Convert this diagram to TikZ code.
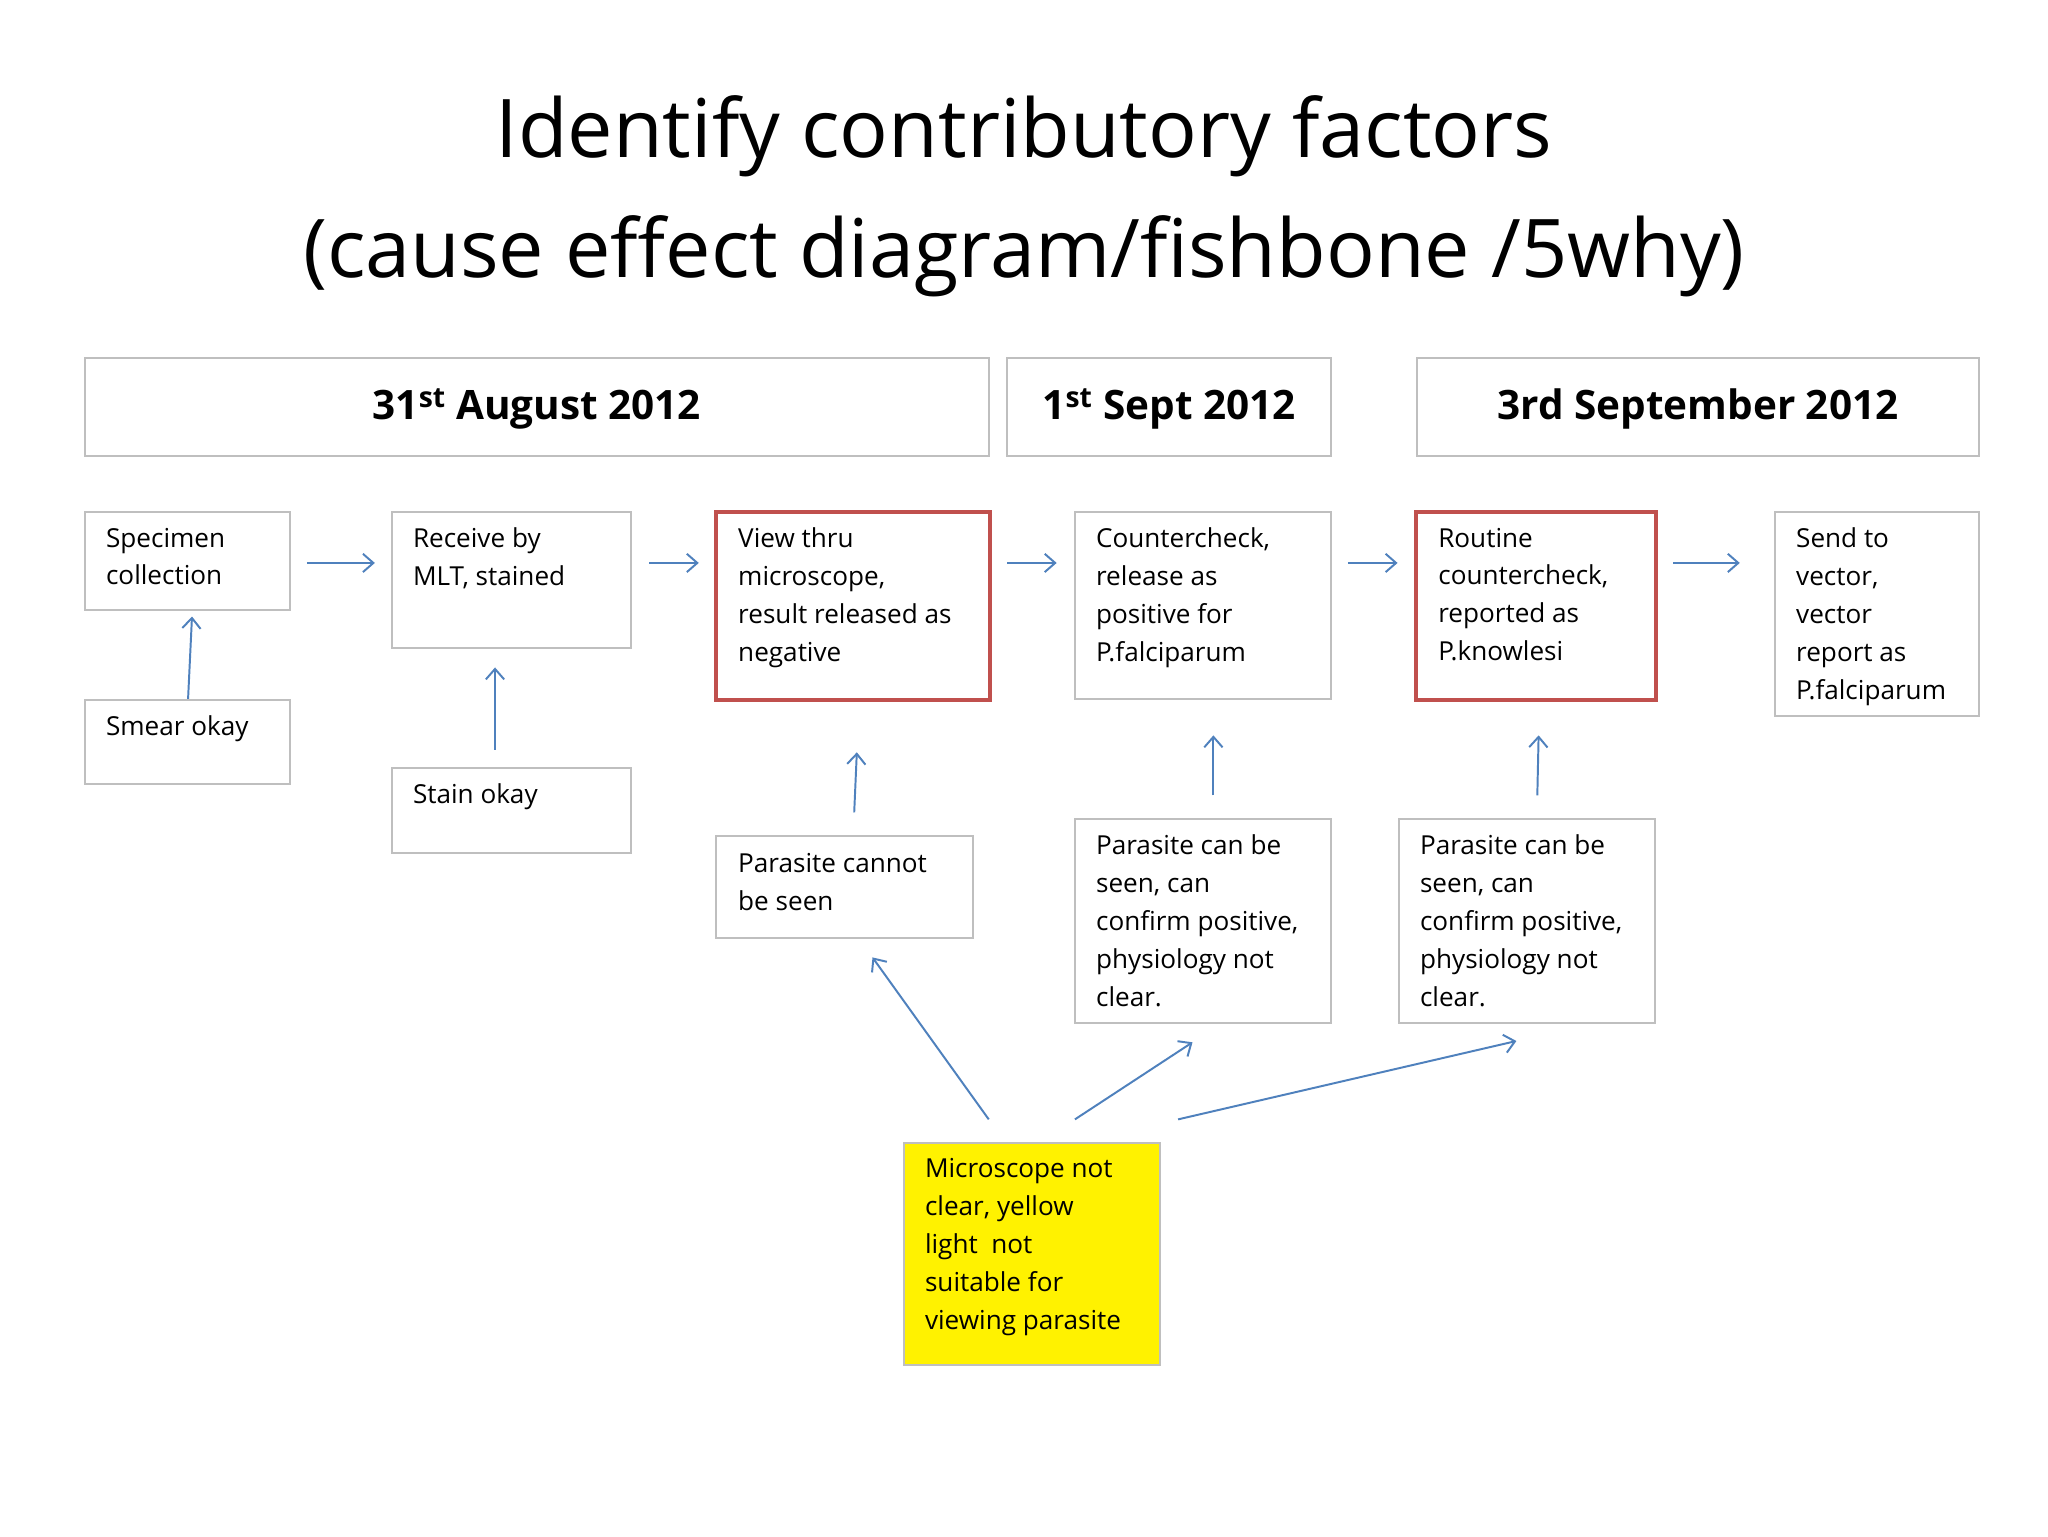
\documentclass[tikz,border=0pt]{standalone}
\usepackage{fontspec}
\setmainfont{Open Sans}
\usetikzlibrary{arrows.meta}
\definecolor{arr}{HTML}{4F81BD}
\definecolor{bx}{HTML}{BFBFBF}
\definecolor{rd}{HTML}{C0504D}
\tikzset{x=1pt,y=-1pt,
 box/.style={draw=bx,line width=1.5pt},
 redbox/.style={draw=rd,line width=3pt},
 txt/.style={anchor=north west,align=left,inner sep=0pt,font=\fontsize{20}{29}\selectfont},
 hd/.style={font=\fontsize{31}{40}\selectfont\bfseries},
 ar/.style={draw=arr,line width=1.5pt,-{Straight Barb[length=8pt,width=14pt]}}}
\begin{document}
\begin{tikzpicture}
\useasboundingbox[fill=white] (0,0) rectangle (1568,1176);
\node[font=\fontsize{62}{92}\selectfont,align=center] (title) at (784,150) {Identify contributory factors\\(cause effect diagram/fishbone /5why)};
% headers
\draw[box] (65,274) rectangle (757,349); \node[hd] (h1) at (411,313) {31\textsuperscript{st} August 2012};
\draw[box] (771,274) rectangle (1019,349); \node[hd] (h2) at (895,313) {1\textsuperscript{st} Sept 2012};
\draw[box] (1085,274) rectangle (1515,349); \node[hd] (h3) at (1300,313) {3rd September 2012};
% boxes
\draw[box] (65,392) rectangle (222,467); \node[txt] (b1) at (81,404) {Specimen\\collection};
\draw[box] (300,392) rectangle (483,496); \node[txt] (b2) at (316,404) {Receive by\\MLT, stained};
\draw[redbox] (548,392) rectangle (758,536); \node[txt] (b3) at (565,404) {View thru\\microscope,\\result released as\\negative};
\draw[box] (823,392) rectangle (1019,535); \node[txt] (b4) at (839,404) {Countercheck,\\release as\\positive for\\P.falciparum};
\draw[redbox] (1084,392) rectangle (1268,536); \node[txt] (b5) at (1101,404) {Routine\\countercheck,\\reported as\\P.knowlesi};
\draw[box] (1359,392) rectangle (1515,548); \node[txt] (b6) at (1375,404) {Send to\\vector,\\vector\\report as\\P.falciparum};
\draw[box] (65,536) rectangle (222,600); \node[txt] (c1) at (81,548) {Smear okay};
\draw[box] (300,588) rectangle (483,653); \node[txt] (c2) at (316,600) {Stain okay};
\draw[box] (548,640) rectangle (745,718); \node[txt] (c3) at (565,653) {Parasite cannot\\be seen};
\draw[box] (823,627) rectangle (1019,783); \node[txt] (c4) at (839,639) {Parasite can be\\seen, can\\confirm positive,\\physiology not\\clear.};
\draw[box] (1071,627) rectangle (1267,783); \node[txt] (c5) at (1087,639) {Parasite can be\\seen, can\\confirm positive,\\physiology not\\clear.};
\draw[box,fill=yellow] (692,875) rectangle (888,1045); \node[txt] (m) at (708,887) {Microscope not\\clear, yellow\\light\ \ not\\suitable for\\viewing parasite};
% arrows
\foreach \a/\b/\y in {235/287/431,497/535/431,771/809/431,1032/1070/431,1281/1332/431}
  {\coordinate (s\a) at (\a,\y); \coordinate (e\a) at (\b,\y); \draw[ar] (s\a) -- (e\a);}
\coordinate (v1a) at (144,535); \coordinate (v1b) at (147,472); \draw[ar] (v1a)--(v1b);
\coordinate (v2a) at (379,574); \coordinate (v2b) at (379,511); \draw[ar] (v2a)--(v2b);
\coordinate (v3a) at (654,622); \coordinate (v3b) at (656,576); \draw[ar] (v3a)--(v3b);
\coordinate (v4a) at (929,609); \coordinate (v4b) at (929,563); \draw[ar] (v4a)--(v4b);
\coordinate (v5a) at (1177,609); \coordinate (v5b) at (1178,563); \draw[ar] (v5a)--(v5b);
\coordinate (d1a) at (757,857); \coordinate (d1b) at (668,733); \draw[ar] (d1a)--(d1b);
\coordinate (d2a) at (823,857); \coordinate (d2b) at (913,798); \draw[ar] (d2a)--(d2b);
\coordinate (d3a) at (902,857); \coordinate (d3b) at (1161,797); \draw[ar] (d3a)--(d3b);
\end{tikzpicture}
\end{document}
